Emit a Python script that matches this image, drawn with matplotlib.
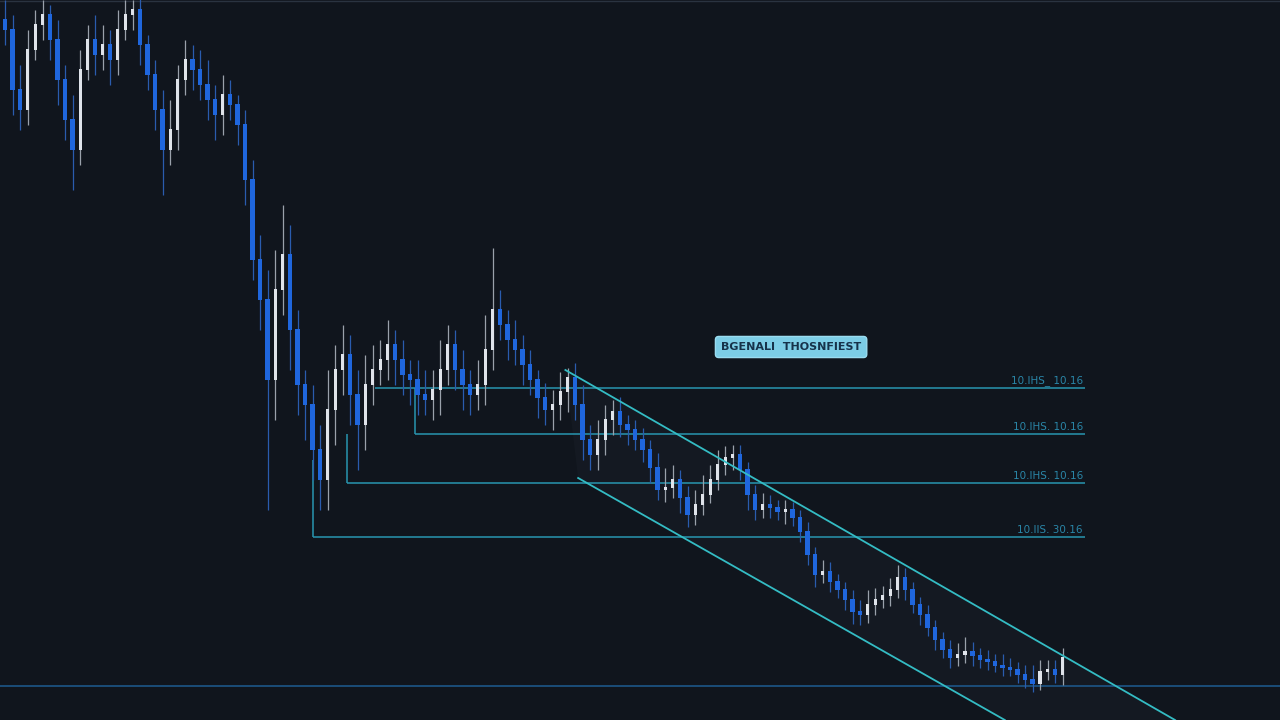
"""
Descending channel chart with support levels
"""

import numpy as np
import matplotlib
matplotlib.use('Agg')
import matplotlib.pyplot as plt

# close prices per candle
closes = [690, 630, 610, 670, 695, 705, 680, 640, 600, 570,
          650, 680, 665, 675, 660, 690, 705, 710, 675, 645,
          610, 570, 590, 640, 660, 650, 635, 620, 605, 625,
          615, 595, 540, 460, 420, 340, 430, 465, 390, 335,
          315, 270, 240, 310, 350, 365, 325, 295, 335, 350,
          360, 375, 360, 345, 340, 325, 320, 330, 350, 375,
          350, 335, 325, 335, 370, 410, 395, 380, 370, 355,
          340, 322, 310, 315, 328, 342, 315, 280, 265, 280,
          300, 308, 295, 290, 280, 270, 252, 230, 232, 240,
          222, 205, 215, 225, 240, 255, 262, 265, 250, 225,
          210, 215, 212, 208, 210, 202, 188, 165, 145, 148,
          138, 130, 120, 108, 105, 115, 120, 124, 130, 142,
          130, 115, 105, 92, 80, 70, 62, 65, 68, 64,
          60, 58, 54, 52, 50, 45, 40, 36, 48, 50,
          45, 62]
first_open = 700

# wick lengths above / below the body
upper_wick = [20, 15, 25, 20, 15, 15, 10, 20, 15, 25,
              20, 15, 25, 20, 15, 20, 15, 10, 15, 10,
              15, 20, 30, 15, 20, 15, 20, 25, 15, 20,
              15, 10, 15, 20, 25, 30, 40, 50, 30, 20,
              15, 20, 25, 40, 25, 30, 20, 25, 30, 25,
              20, 25, 15, 20, 15, 20, 25, 20, 30, 20,
              15, 20, 15, 25, 35, 62, 20, 15, 20, 15,
              15, 10, 15, 15, 20, 10, 15, 20, 15, 20,
              15, 12, 15, 10, 10, 12, 10, 15, 20, 15,
              10, 12, 15, 20, 15, 15, 12, 10, 10, 8,
              10, 12, 10, 8, 10, 8, 8, 10, 8, 12,
              10, 8, 8, 10, 12, 15, 12, 10, 12, 13,
              10, 8, 8, 10, 8, 8, 10, 12, 15, 10,
              8, 10, 8, 12, 10, 8, 10, 15, 12, 10,
              10, 10]
lower_wick = [15, 25, 20, 15, 10, 15, 20, 25, 20, 40,
              15, 10, 20, 15, 25, 15, 10, 15, 20, 15,
              20, 45, 15, 20, 15, 20, 15, 20, 25, 20,
              15, 20, 25, 20, 30, 130, 40, 25, 40, 30,
              35, 30, 30, 30, 35, 25, 30, 45, 25, 20,
              15, 20, 25, 20, 25, 20, 15, 20, 25, 15,
              20, 25, 20, 15, 20, 20, 15, 20, 15, 20,
              15, 20, 15, 20, 15, 20, 15, 20, 15, 15,
              15, 15, 12, 15, 10, 12, 15, 10, 12, 10,
              15, 12, 10, 10, 8, 10, 10, 12, 10, 15,
              10, 8, 10, 8, 12, 8, 10, 10, 12, 8,
              10, 8, 10, 12, 10, 8, 10, 8, 10, 8,
              10, 8, 10, 8, 10, 8, 10, 8, 8, 10,
              8, 8, 6, 8, 6, 8, 8, 8, 6, 8,
              8, 10]

# support levels: price, start candle
level_prices = [332, 286, 237, 183]
level_starts = [49.3, 54.7, 45.6, 41.1]
level_end = 144
level_labels = ['10.IHS_ 10.16', '10.IHS. 10.16', '10.IHS. 10.16', '10.IIS. 30.16']
# vertical connectors: candle, from price, to price
connectors = [(54.7, 332, 286), (45.6, 286, 237), (41.1, 260, 183)]

# channel lines: (x0, y0, x1, y1)
channel_upper = (74.7, 350, 156.0, 0)
channel_lower = (76.4, 242, 133.3, 0)

base_price = 34
box_text = 'BGENALI  THOSNFIEST'

BG = '#10151d'
BULL = '#dfe3ea'
BULL_WICK = '#9aa1ab'
BEAR = '#1f66dd'
BEAR_WICK = '#2a5cae'
LEVEL = '#2896b0'
CHANNEL = '#34bcc4'

closes = np.array(closes, dtype=float)
opens = np.concatenate([[first_open], closes[:-1]])
tops = np.maximum(opens, closes)
bots = np.minimum(opens, closes)
highs = tops + np.array(upper_wick)
lows = bots - np.array(lower_wick)
idx = np.arange(len(closes))
up = closes >= opens

fig = plt.figure(figsize=(12.8, 7.2), dpi=100, facecolor=BG)
ax = fig.add_axes([0, 0, 1, 1])
ax.set_facecolor(BG)
ax.set_xlim(-0.7, 170.0)
ax.set_ylim(0, 720)
ax.axis('off')

# channel fill
xs = [channel_lower[0], channel_upper[0], channel_upper[2], channel_lower[2]]
ys = [channel_lower[1], channel_upper[1], channel_upper[3], channel_lower[3]]
ax.fill(xs, ys, color='#1c232c', alpha=0.35, zorder=0, lw=0)

# base line and top border
ax.axhline(base_price, color='#1d5688', lw=1.2, zorder=1)
ax.axhline(719.5, color='#2a3340', lw=1.0, zorder=1)

# support levels
for p, s, lab in zip(level_prices, level_starts, level_labels):
    ax.hlines(p, s, level_end, color=LEVEL, lw=1.1, zorder=1)
    ax.text(level_end - 0.3, p + 2, lab, color='#2a86a8', fontsize=7.5,
            ha='right', va='bottom', family='DejaVu Sans Condensed', zorder=3)
for cx, y0, y1 in connectors:
    ax.vlines(cx, y1, y0, color=LEVEL, lw=1.1, zorder=1)

# candles
ax.vlines(idx[up], lows[up], highs[up], color=BULL_WICK, lw=0.9, zorder=2)
ax.vlines(idx[~up], lows[~up], highs[~up], color=BEAR_WICK, lw=0.9, zorder=2)
ax.bar(idx[up], tops[up] - bots[up] + 1, bottom=bots[up], width=0.42,
       color=BULL, zorder=2, lw=0)
ax.bar(idx[~up], tops[~up] - bots[~up] + 1, bottom=bots[~up], width=0.6,
       color=BEAR, zorder=2, lw=0)

# channel lines
ax.plot(channel_upper[0::2], channel_upper[1::2], color=CHANNEL, lw=1.3, zorder=3)
ax.plot(channel_lower[0::2], channel_lower[1::2], color=CHANNEL, lw=1.3, zorder=3)

# label box
ax.text(104.8, 373, box_text, color='#16324a', fontsize=8, fontweight='bold',
        ha='center', va='center', family='DejaVu Sans Condensed', zorder=4,
        bbox=dict(boxstyle='round,pad=0.5,rounding_size=0.3', fc='#7ccde6',
                  ec='#9adcf0', lw=1.0))

fig.savefig('out.png', dpi=100, facecolor=BG)
